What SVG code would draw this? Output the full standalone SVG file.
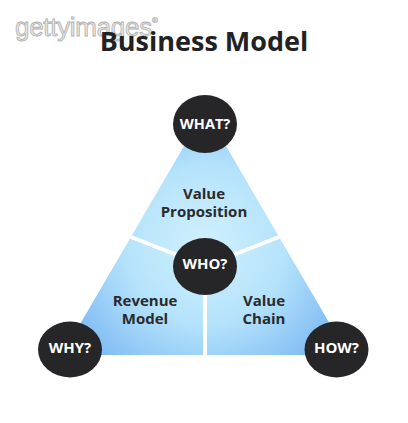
<svg xmlns="http://www.w3.org/2000/svg" width="408" height="423" viewBox="0 0 408 423">
<defs>
<radialGradient id="tri" gradientUnits="userSpaceOnUse" cx="205" cy="245" r="175">
<stop offset="0" stop-color="#d0f0fd"/>
<stop offset="0.45" stop-color="#b5e3fb"/>
<stop offset="1" stop-color="#6eaef1"/>
</radialGradient>
<style>
.title{font-family:"Open Sans","DejaVu Sans",sans-serif;font-weight:700;font-size:27px;fill:#222224;text-anchor:middle}
.wm{font-family:"Liberation Sans",Arial,sans-serif;font-size:26px;fill:#e8e8e8;stroke:#b0b0b0;stroke-width:0.8;letter-spacing:-0.3px}
.circ{fill:#262628}
.ql{font-family:"Open Sans","DejaVu Sans",sans-serif;font-weight:700;font-size:14.5px;fill:#ffffff;text-anchor:middle}
.rl{font-family:"Open Sans","DejaVu Sans",sans-serif;font-weight:700;font-size:15px;fill:#2a2a2c;text-anchor:middle}
.div{stroke:#ffffff;stroke-width:4;fill:none}
</style>
</defs>
<rect width="408" height="423" fill="#ffffff"/>
<text class="wm" x="15" y="36">gettyimages<tspan dy="-13" style="font-size:8px;stroke-width:0.4">®</tspan></text>
<text class="title" x="204" y="51">Business Model</text>

<g id="triangle">
<polygon points="205,110 62,355 348,355" fill="url(#tri)"/>
</g>
<g id="connectors">
<line class="div" x1="205" y1="266" x2="131" y2="237"/>
<line class="div" x1="205" y1="266" x2="279" y2="237"/>
<line class="div" x1="205" y1="266" x2="205" y2="356"/>
</g>

<g id="value-proposition">
<text class="rl" x="204" y="199">Value</text>
<text class="rl" x="204" y="216.5">Proposition</text>
</g>
<g id="revenue-model">
<text class="rl" x="145" y="306">Revenue</text>
<text class="rl" x="145" y="323.5">Model</text>
</g>
<g id="value-chain">
<text class="rl" x="264" y="306">Value</text>
<text class="rl" x="264" y="323.5">Chain</text>
</g>

<g id="what">
<ellipse class="circ" cx="205" cy="124" rx="32" ry="29"/>
<text class="ql" x="205" y="129">WHAT?</text>
</g>
<g id="who">
<ellipse class="circ" cx="205" cy="266.5" rx="32" ry="28.5"/>
<text class="ql" x="205" y="269" style="font-size:15px">WHO?</text>
</g>
<g id="why">
<ellipse class="circ" cx="70" cy="349.5" rx="32" ry="28"/>
<text class="ql" x="70" y="353" style="font-size:15px">WHY?</text>
</g>
<g id="how">
<ellipse class="circ" cx="336.5" cy="349.5" rx="32" ry="28"/>
<text class="ql" x="336.5" y="353" style="font-size:15px">HOW?</text>
</g>
</svg>
